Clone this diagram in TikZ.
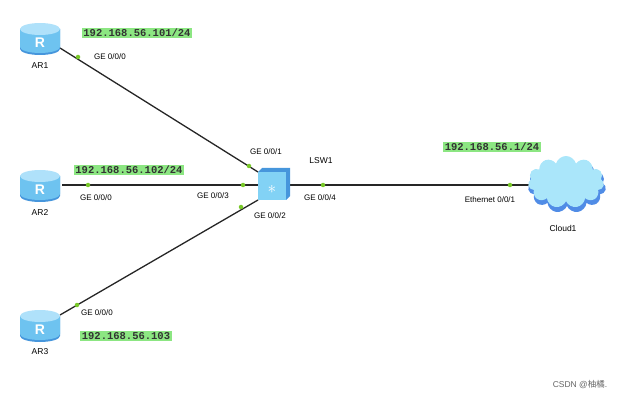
\documentclass[tikz,border=0pt]{standalone}
\usepackage{fontspec}
\setmainfont{Liberation Sans}
\setmonofont{Liberation Mono}
\newfontfamily\cjk{Noto Sans CJK SC}
\usetikzlibrary{shapes.symbols}
\definecolor{dk}{RGB}{70,150,220}
\definecolor{md}{RGB}{110,195,240}
\definecolor{lt}{RGB}{175,225,250}
\definecolor{sw}{RGB}{130,210,245}
\definecolor{cdk}{RGB}{80,140,230}
\definecolor{clt}{RGB}{170,230,250}
\definecolor{ipg}{RGB}{140,230,130}
\definecolor{dotg}{RGB}{120,200,40}
\begin{document}
\begin{tikzpicture}[x=1pt,y=-1pt,
  lbl/.style={font=\fontsize{8}{9}\selectfont,inner sep=0pt},
  nm/.style={font=\fontsize{8.5}{10}\selectfont,inner sep=0pt},
  ip/.style={fill=ipg,font=\ttfamily\bfseries\fontsize{10.5}{12}\selectfont,inner sep=1.5pt,text=black!80},
  dot/.style={circle,fill=dotg,inner sep=0pt,minimum size=4.5pt},
  link/.style={line width=1.3pt,black!85}]
\useasboundingbox (0,0) rectangle (636,403);
\newcommand{\router}[1]{%
 \begin{scope}[shift={#1}]
  \fill[dk] (-20,-9) -- (-20,11) arc[x radius=20,y radius=6,start angle=180,end angle=0] -- (20,-9) -- cycle;
  \fill[md] (-20,-9) -- (-20,9) arc[x radius=20,y radius=6,start angle=180,end angle=0] -- (20,-9) -- cycle;
  \fill[lt] (0,-9) ellipse[x radius=20,y radius=6];
  \node[text=white,font=\bfseries\fontsize{14}{14}\selectfont] at (0,5) {R};
 \end{scope}}
\coordinate (r1) at (40,38);
\coordinate (r2) at (40,185);
\coordinate (r3) at (40,325);
\draw[link] (60,48) coordinate(a1) -- (258,172) coordinate(s1);
\draw[link] (62,185) coordinate(a2) -- (258,185) coordinate(s3);
\draw[link] (60,315) coordinate(a3) -- (258,200) coordinate(s2);
\draw[link] (287,185) coordinate(s4) -- (530,185) coordinate(c1);
\router{(r1)}\router{(r2)}\router{(r3)}
% switch
\fill[dk] (258,172) -- (262,168) -- (290,168) -- (290,196) -- (286,200) -- cycle;
\fill[sw] (258,172) rectangle (286,200);
\node[text=white,font=\fontsize{18}{18}\selectfont] (swn) at (272,189) {$\ast$};
% cloud
\node[cloud,cloud puffs=11,aspect=1.5,fill=cdk,minimum width=78pt,minimum height=54pt] at (567,186) {};
\node[cloud,cloud puffs=11,aspect=1.5,fill=clt,minimum width=76pt,minimum height=52pt] (cloud) at (566,182) {};
\foreach \p in {(78,57),(249,166),(88,185),(243,185),(77,305),(241,207),(323,185),(510,185)} \node[dot] at \p {};
\node[nm] (n1) at (40,66) {AR1};
\node[nm] (n2) at (40,213) {AR2};
\node[nm] (n3) at (40,352) {AR3};
\node[nm] (n4) at (321,161) {LSW1};
\node[nm] (n5) at (563,228) {Cloud1};
\node[ip] (i1) at (137,33) {192.168.56.101/24};
\node[ip] (i2) at (129,170) {192.168.56.102/24};
\node[ip] (i3) at (126,336) {192.168.56.103};
\node[ip] (i4) at (492,147) {192.168.56.1/24};
\node[lbl] at (110,57) {GE 0/0/0};
\node[lbl] at (96,198) {GE 0/0/0};
\node[lbl] at (97,313) {GE 0/0/0};
\node[lbl] at (266,152) {GE 0/0/1};
\node[lbl] at (213,196) {GE 0/0/3};
\node[lbl] at (270,216) {GE 0/0/2};
\node[lbl] at (320,198) {GE 0/0/4};
\node[lbl] at (490,200) {Ethernet 0/0/1};
\node[text=black!60,font=\fontsize{8.5}{10}\selectfont,inner sep=0pt] at (580,385) {CSDN @{\cjk 柚橘}.};
\end{tikzpicture}
\end{document}
